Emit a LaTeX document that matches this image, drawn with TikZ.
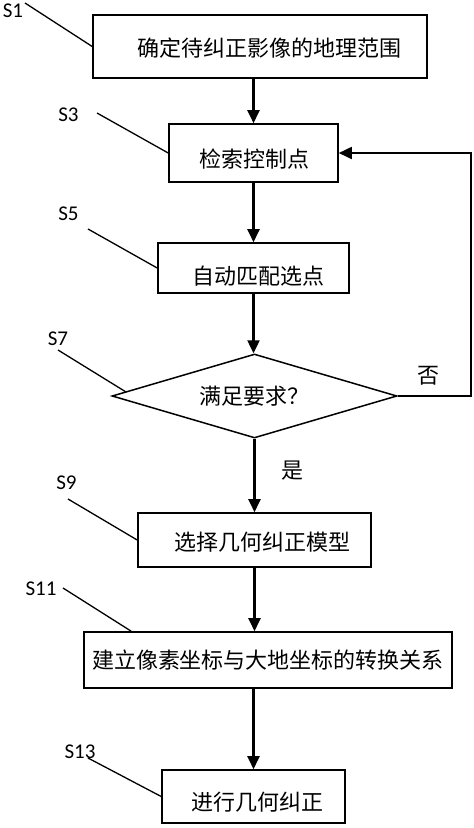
\documentclass[tikz,border=0pt]{standalone}
\usepackage{fontspec}
\setmainfont{Carlito}
\newfontfamily\cjk{Noto Sans CJK SC}
\usetikzlibrary{arrows.meta,shapes.geometric,calc}
\newcommand{\movetext}[3]{\hspace*{#1}\raisebox{#2}[\height][\depth]{#3}}
\begin{document}
\begin{tikzpicture}[x=1pt,y=-1pt,
  box/.style={draw, line width=1.6pt, inner sep=0pt, font=\cjk\fontsize{22pt}{26pt}\selectfont},
  decide/.style={draw, diamond, aspect=3.4, line width=1.5pt, inner sep=0pt, font=\cjk\fontsize{22pt}{26pt}\selectfont},
  arr/.style={line width=2.4pt, -{Triangle[width=12pt,length=13pt]}},
  leader/.style={line width=1.3pt},
  lab/.style={font=\fontsize{21pt}{25pt}\selectfont, inner sep=0pt},
  yn/.style={font=\cjk\fontsize{22pt}{26pt}\selectfont, inner sep=0pt}]
\useasboundingbox (0,0) rectangle (474,828);

\node[box, minimum width=334pt, minimum height=63pt] (b1) at (260,46.5) {\movetext{19pt}{-1.5pt}{确定待纠正影像的地理范围}};
\node[box, minimum width=169pt, minimum height=58pt] (b2) at (253.5,153) {\movetext{2pt}{-6pt}{检索控制点}};
\node[box, minimum width=191pt, minimum height=50pt] (b3) at (253.5,268) {\movetext{9pt}{-8pt}{自动匹配选点}};
\node[decide, minimum width=285pt, minimum height=84pt] (d) at (254.5,396) {满足要求？};
\node[box, minimum width=233pt, minimum height=54pt] (b4) at (254.5,540) {\movetext{16pt}{-2pt}{选择几何纠正模型}};
\node[box, minimum width=368pt, minimum height=56pt] (b5) at (268,660) {建立像素坐标与大地坐标的转换关系};
\node[box, minimum width=183pt, minimum height=53pt] (b6) at (253.5,796.5) {\movetext{8pt}{-5.5pt}{进行几何纠正}};

% step labels
\node[lab] (l1) at (13,11) {S1};
\node[lab] (l3) at (68.5,115) {S3};
\node[lab] (l5) at (68.5,213.5) {S5};
\node[lab] (l7) at (58,338.5) {S7};
\node[lab] (l9) at (66.5,483) {S9};
\node[lab] (l11) at (41,588.5) {S11};
\node[lab] (l13) at (80,751.5) {S13};

\coordinate (t1) at (25,3);
\coordinate (t3) at (97,113);
\coordinate (t5) at (88,229);
\coordinate (t7) at (58,350);
\coordinate (t9) at (68,499);
\coordinate (t11) at (63,588);
\coordinate (t13) at (88,758);
\coordinate (d7) at ($(d.west)!0.1!(d.north)$);
\coordinate (s11e) at ($(b5.north west)+(48,0)$);

\draw[leader] (t1) -- (b1.west);
\draw[leader] (t3) -- (b2.west);
\draw[leader] (t5) -- (b3.west);
\draw[leader] (t7) -- (d7);
\draw[leader] (t9) -- (b4.west);
\draw[leader] (t11) -- (s11e);
\draw[leader] (t13) -- (b6.west);

% flow arrows
\draw[arr] (b1.south -| b2.north) -- (b2.north);
\draw[arr] (b2.south) -- (b3.north);
\draw[arr] (b3.south) -- (b3.south |- d.north);
\draw[arr] (d.south) -- (d.south |- b4.north);
\draw[arr] (b4.south) -- (b4.south |- b5.north);
\draw[arr] (b5.south -| b6.north) -- (b6.north);

\coordinate (fb) at (471,396);
\draw[arr, line width=1.8pt] (d.east) -- (fb) |- (b2.east);

\node[yn] (no) at (428,376) {否};
\node[yn] (yes) at (292,471) {是};
\end{tikzpicture}
\end{document}
